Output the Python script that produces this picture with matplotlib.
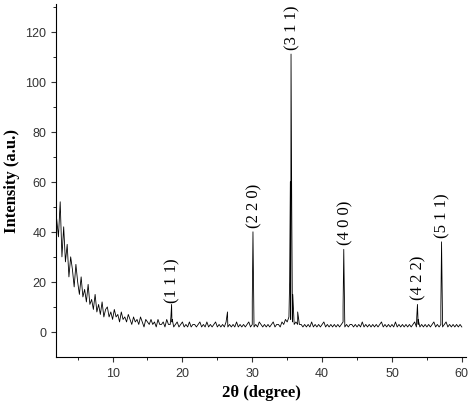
import numpy as np
import matplotlib
matplotlib.use("Agg")
import matplotlib.pyplot as plt

bg_y = [45,38,52,30,42,28,35,22,30,25,18,27,20,15,22,14,17,12,19,11,
13,9,15,8,11,7,12,6,9,10,6,8,5,9,6,7,4,8,5,6,
4,7,5,3,6,4,5,3,6,4,2,5,4,3,5,3,4,2,5,3,
3,4,2,5,3,3,4,2,3,4,2,3,4,2,3,2,4,2,3,3,
2,3,4,2,3,2,4,2,3,2,3,4,2,3,2,3,2,4,2,3,
2,3,2,4,2,3,2,3,2,3,4,2,3,2,3,2,4,3,2,3,
2,3,2,3,4,2,3,3,2,4,3,5,4,6,5,4,3,4,3,3,
3,2,3,2,3,2,4,2,3,2,3,2,3,4,2,3,2,3,2,3,
2,3,2,3,4,2,3,2,3,3,2,3,2,3,2,4,2,3,2,3,
2,3,2,3,2,3,4,2,3,2,3,2,3,2,4,2,3,2,3,2,
3,2,3,2,3,4,2,3,2,3,2,3,2,3,2,3,4,2,3,2,
3,2,3,4,2,3,2,3,2,3,2,3,2]
peak_x = [18.35,18.45,18.55,26.45,30.0,30.1,30.2,35.35,35.45,35.55,35.65,35.8,36.5,
          43.0,43.1,43.2,53.55,53.65,53.75,57.0,57.1,57.2]
peak_y = [6,11,5,8,12,40,15,20,60,111,50,15,8,10,33,12,6,11,5,10,36,12]
labels = ["(1 1 1)","(2 2 0)","(3 1 1)","(4 0 0)","(4 2 2)","(5 1 1)"]
label_x = [18.5,30.3,35.7,43.3,53.8,57.2]
label_y = [12,42,113,35,13,38]

bg_x = 2.0 + 0.25*np.arange(len(bg_y))
x = np.concatenate([bg_x, peak_x]); y = np.concatenate([bg_y, peak_y])
o = np.argsort(x, kind="stable")

fig = plt.figure(figsize=(4.74,4.14), dpi=100)
ax = fig.add_axes([56/474, 1-358/414, 410/474, 353/414])
ax.plot(x[o], y[o], color='black', lw=0.6)
ax.set_xlim(1.9, 60.6); ax.set_ylim(-10, 131)
ax.set_xticks(range(10,61,10)); ax.set_yticks(range(0,121,20))
ax.set_xticks(range(5,61,10), minor=True); ax.set_yticks(range(10,131,20), minor=True)
ax.tick_params(labelsize=9, colors='#333333', direction='out')
for t in ax.get_xticklabels()+ax.get_yticklabels(): t.set_fontfamily('Liberation Sans')
for s in ['top','right']: ax.spines[s].set_visible(False)
ax.set_xlabel('2θ (degree)', fontfamily='Liberation Serif', fontweight='bold', fontsize=12)
ax.set_ylabel('Intensity (a.u.)', fontfamily='Liberation Serif', fontweight='bold', fontsize=12)
for lx, ly, lt in zip(label_x, label_y, labels):
    ax.text(lx, ly, lt, rotation=90, ha='center', va='bottom', fontfamily='Liberation Serif', fontsize=12)
fig.savefig('out.png', dpi=100)
